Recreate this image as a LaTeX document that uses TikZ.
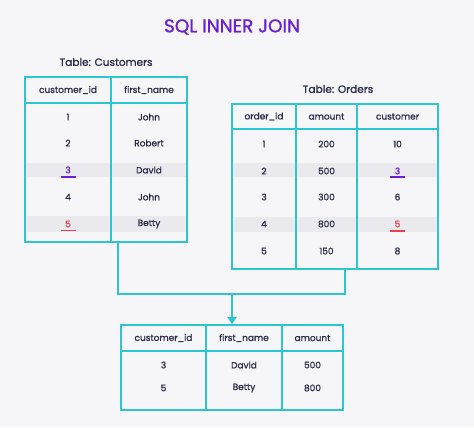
\documentclass[tikz,border=0pt]{standalone}
\usepackage{fontspec}
\setmainfont{Poppins}
\newfontfamily\medfont{Poppins}[FakeBold=1.2]
\usetikzlibrary{arrows.meta}
\definecolor{bg}{HTML}{F6F6F9}
\definecolor{cyanb}{HTML}{2CC6D2}
\definecolor{ink}{HTML}{2B2C4A}
\definecolor{violetc}{HTML}{6A1FD6}
\definecolor{redu}{HTML}{E8404C}
\definecolor{band}{HTML}{EAEAEE}
\begin{document}
\begin{tikzpicture}[x=1bp,y=-1bp,
  cell/.style={font=\medfont\fontsize{9}{10}\selectfont, text=ink, inner sep=0},
  ttl/.style={font=\medfont\fontsize{10.6}{12}\selectfont, text=ink, inner sep=0},
  tbl/.style={draw=cyanb, line width=1.6bp, inner sep=0},
  gridline/.style={draw=cyanb, line width=1.6bp},
  conn/.style={draw=cyanb, line width=1.6bp},
  bandfill/.style={fill=band},
  ul/.style={line width=1.3bp}]
\fill[bg] (0,0) rectangle (474,427);
\useasboundingbox (0,0) rectangle (474,427);

% title
\node[font=\medfont\fontsize{18.5}{22}\selectfont, text=violetc, inner sep=0] (title) at (232,27) {SQL INNER JOIN};

% ---------- Customers ----------
\node[ttl] (custttl) at (106,62) {Table: Customers};
\fill[bandfill] (25,163) rectangle (187,177);
\fill[bandfill] (25,216) rectangle (187,232);
\node[tbl, minimum width=162bp, minimum height=165bp] (cust) at (106,159.5) {};
\draw[gridline] (25,103) -- (187,103);
\draw[gridline] (111,77) -- (111,242);
\node[cell] (ch1) at (68,90) {customer\_id};
\node[cell] (ch2) at (149,90) {first\_name};
\node[cell] (c11) at (68,117) {1};   \node[cell] (c12) at (149,117) {John};
\node[cell] (c21) at (68,143) {2};   \node[cell] (c22) at (149,143) {Robert};
\node[cell, text=violetc] (c31) at (68,170) {3}; \node[cell] (c32) at (149,170) {David};
\node[cell] (c41) at (68,197) {4};   \node[cell] (c42) at (149,197) {John};
\node[cell, text=redu] (c51) at (68,224) {5}; \node[cell] (c52) at (149,224) {Betty};
\draw[ul, violetc] (60.5,177) -- (75.5,177);
\draw[ul, redu] (60.5,230.5) -- (75.5,230.5);

% ---------- Orders ----------
\node[ttl] (ordttl) at (338,89) {Table: Orders};
\fill[bandfill] (232,163) rectangle (438,177);
\fill[bandfill] (232,217) rectangle (438,232);
\node[tbl, minimum width=206bp, minimum height=165bp] (ord) at (335,186.5) {};
\draw[gridline] (232,129) -- (438,129);
\draw[gridline] (296,104) -- (296,269);
\draw[gridline] (357,104) -- (357,269);
\node[cell] (oh1) at (264,116.5) {order\_id};
\node[cell] (oh2) at (326.5,116.5) {amount};
\node[cell] (oh3) at (397.5,116.5) {customer};
\node[cell] (o11) at (264,144) {1}; \node[cell] (o12) at (326.5,144) {200}; \node[cell] (o13) at (397.5,144) {10};
\node[cell] (o21) at (264,171) {2}; \node[cell] (o22) at (326.5,171) {500}; \node[cell, text=violetc] (o23) at (397.5,171) {3};
\node[cell] (o31) at (264,197) {3}; \node[cell] (o32) at (326.5,197) {300}; \node[cell] (o33) at (397.5,197) {6};
\node[cell] (o41) at (264,224) {4}; \node[cell] (o42) at (326.5,224) {800}; \node[cell, text=redu] (o43) at (397.5,224) {5};
\node[cell] (o51) at (264,251) {5}; \node[cell] (o52) at (326.5,251) {150}; \node[cell] (o53) at (397.5,251) {8};
\draw[ul, violetc] (390,177) -- (405,177);
\draw[ul, redu] (390,231) -- (405,231);

% ---------- Result ----------
\node[tbl, minimum width=222bp, minimum height=85bp] (res) at (232,367.5) {};
\draw[gridline] (121,351) -- (343,351);
\draw[gridline] (206,325) -- (206,410);
\draw[gridline] (282,325) -- (282,410);
\node[cell] (rh1) at (163.5,338) {customer\_id};
\node[cell] (rh2) at (244,338) {first\_name};
\node[cell] (rh3) at (312.5,338) {amount};
\node[cell] (r11) at (163.5,365) {3}; \node[cell] (r12) at (244,365) {David}; \node[cell] (r13) at (312.5,365) {500};
\node[cell] (r21) at (163.5,388) {5}; \node[cell] (r22) at (244,388) {Betty}; \node[cell] (r23) at (312.5,388) {800};

% ---------- connectors ----------
\coordinate (jn) at (232,294);
\draw[conn] ([xshift=12bp]cust.south) |- (jn) -| ([xshift=10bp]ord.south);
\draw[conn, -{Triangle[width=9bp,length=7bp]}] (jn) -- (res.north);
\end{tikzpicture}
\end{document}
